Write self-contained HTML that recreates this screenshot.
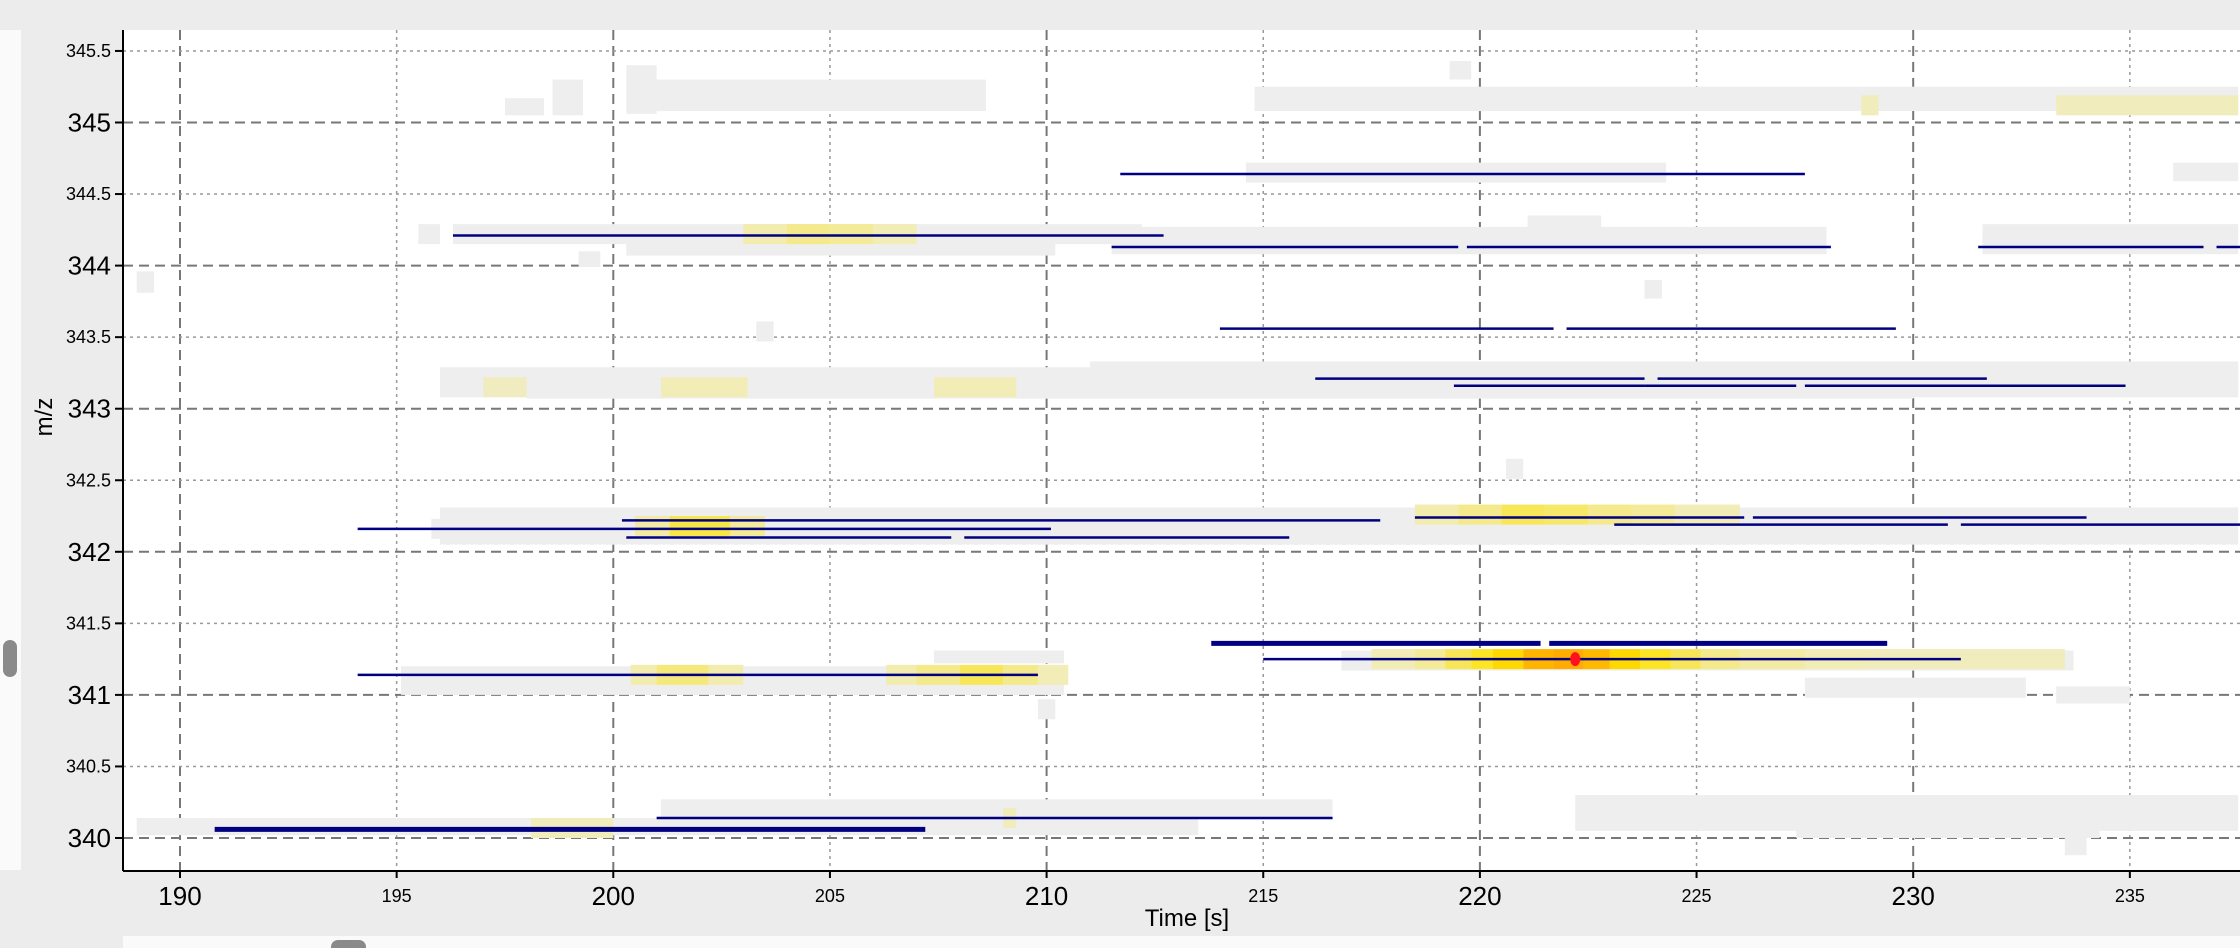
<!DOCTYPE html>
<html><head><meta charset="utf-8">
<style>
html,body{margin:0;padding:0;background:#ececec;}
svg{display:block;font-family:"Liberation Sans",sans-serif;}
</style></head>
<body>
<svg id="chart" width="2240" height="948" xmlns="http://www.w3.org/2000/svg">
  <rect x="0" y="0" width="2240" height="948" fill="#ececec"/>
  <rect x="0" y="30" width="21" height="840" fill="#fafafa"/>
  <rect x="3" y="640" width="14" height="37" rx="7" fill="#8a8a8a"/>
  <rect x="123" y="936" width="2117" height="12" fill="#fafafa"/>
  <rect x="331" y="940" width="35" height="14" rx="7" fill="#8a8a8a"/>
  <rect x="123" y="30" width="2117" height="841" fill="#ffffff"/>
  <g id="grid"></g>
  <g id="gray"></g>
  <g id="heat"></g>
  <g id="traces"></g>
  <g id="axes"></g>
  <text x="1187" y="926" font-size="24" text-anchor="middle" fill="#000">Time [s]</text>
  <text x="0" y="0" font-size="24" text-anchor="middle" fill="#000" transform="translate(52,417) rotate(-90)">m/z</text>
</svg>
<script>
const xMajorTicks=[190,200,210,220,230];
const xMinorTicks=[195,205,215,225,235];
const yMajorTicks=[340,341,342,343,344,345];
const yMinorTicks=[340.5,341.5,342.5,343.5,344.5,345.5];
// traces: [tStart, tEnd, mz, thick]
const traceStart=[211.7,196.3,211.5,219.7,231.5,237.0,214.0,222.0,216.2,224.1,219.4,223.8,227.5,194.1,200.2,200.3,208.1,218.5,226.3,223.1,231.1,213.8,221.6,215.0,194.1,190.8,201.0];
const traceEnd  =[227.5,212.7,219.5,228.1,236.7,238.0,221.7,229.6,223.8,231.7,223.8,227.3,234.9,210.1,217.7,207.8,215.6,226.1,234.0,230.8,238.0,221.4,229.4,231.1,209.8,207.2,216.6];
const traceMz   =[344.64,344.21,344.13,344.13,344.13,344.13,343.56,343.56,343.21,343.21,343.16,343.16,343.16,342.16,342.22,342.10,342.10,342.24,342.24,342.19,342.19,341.36,341.36,341.25,341.14,340.06,340.14];
const traceThick=[0,0,0,0,0,0,0,0,0,0,0,0,0,0,0,0,0,0,0,0,0,1,1,0,0,1,0];
// gray blocks
const grayT0=[197.5,198.6,200.8,200.3,214.8,219.3,214.6,223.8,236.0,195.5,196.3,200.3,221.1,211.5,231.6,189.0,199.2,223.8,203.3,196.0,198.0,211.0,220.6,195.8,196.0,215.0,195.1,207.4,209.8,216.8,227.5,233.3,189.0,201.1,222.2,227.3,233.5];
const grayT1=[198.4,199.3,208.6,201.0,237.5,219.8,223.8,224.3,237.5,196.0,212.2,210.2,222.8,228.0,237.5,189.4,199.7,224.2,203.7,237.5,230.0,237.5,221.0,196.2,237.5,226.0,210.4,210.4,210.2,233.7,232.6,235.0,213.5,216.6,237.5,234.3,234.0];
const grayTop=[345.17,345.30,345.30,345.40,345.25,345.43,344.72,344.72,344.72,344.29,344.29,344.16,344.35,344.27,344.29,343.96,344.10,343.90,343.61,343.29,343.20,343.33,342.65,342.23,342.31,342.20,341.20,341.31,340.97,341.31,341.12,341.06,340.14,340.27,340.30,340.13,340.00];
const grayBot=[345.05,345.05,345.08,345.06,345.08,345.30,344.58,344.58,344.59,344.15,344.15,344.07,344.20,344.08,344.08,343.81,343.99,343.77,343.47,343.08,343.07,343.12,342.51,342.09,342.05,342.05,341.00,341.22,340.83,341.17,340.98,340.94,340.02,340.14,340.05,340.00,339.88];
// heat cells
const heatT0=[203.0,204.0,205.0,206.0,200.5,201.3,202.7,197.0,201.1,207.4,218.5,219.5,220.5,221.5,222.5,223.5,224.5,200.4,201.0,202.2,206.3,207.0,208.0,209.0,209.8,217.5,218.5,219.2,219.8,220.3,221.0,221.7,222.4,223.0,223.7,224.4,225.1,226.0,227.5,229.0,231.0,198.1,228.8,233.3,209.0];
const heatT1=[204.0,205.0,206.0,207.0,201.3,202.7,203.5,198.0,203.1,209.3,219.5,220.5,221.5,222.5,223.5,224.5,226.0,201.0,202.2,203.0,207.0,208.0,209.0,209.8,210.5,218.5,219.2,219.8,220.3,221.0,221.7,222.4,223.0,223.7,224.4,225.1,226.0,227.5,229.0,231.0,233.5,200.0,229.2,237.5,209.3];
const heatMz=[344.22,344.22,344.22,344.22,342.18,342.18,342.18,343.15,343.15,343.15,342.26,342.26,342.26,342.26,342.26,342.26,342.26,341.14,341.14,341.14,341.14,341.14,341.14,341.14,341.14,341.25,341.25,341.25,341.25,341.25,341.25,341.25,341.25,341.25,341.25,341.25,341.25,341.25,341.25,341.25,341.25,340.07,345.12,345.12,340.14];
const heatI=[0.15,0.3,0.25,0.12,0.2,0.5,0.25,0.08,0.12,0.12,0.15,0.3,0.45,0.4,0.3,0.25,0.12,0.15,0.35,0.15,0.15,0.3,0.45,0.3,0.12,0.12,0.25,0.45,0.6,0.75,0.9,0.95,0.88,0.75,0.6,0.45,0.3,0.2,0.12,0.1,0.1,0.1,0.1,0.1,0.1];

const NS="http://www.w3.org/2000/svg";
function xs(t){return 180+(t-190)*43.33;}
function ys(m){return 838-(m-340)*143.1;}
const PL=123,PR=2240,PT=30,PB=871;
function mk(tag,attrs,parent){const e=document.createElementNS(NS,tag);for(const k in attrs)e.setAttribute(k,attrs[k]);parent.appendChild(e);return e;}
function heatColor(i){
  const stops=[[0,[240,237,210]],[0.3,[244,234,140]],[0.5,[248,230,70]],[0.7,[255,228,0]],[0.85,[255,192,0]],[1,[255,160,0]]];
  for(let k=1;k<stops.length;k++){if(i<=stops[k][0]){const a=stops[k-1],b=stops[k];const f=(i-a[0])/(b[0]-a[0]);const c=a[1].map((v,j)=>Math.round(v+(b[1][j]-v)*f));return `rgb(${c})`;}}
  return 'rgb(255,160,0)';
}
const grid=document.getElementById('grid');
xMajorTicks.forEach(t=>{const l=mk('line',{x1:xs(t),x2:xs(t),y1:PT,y2:PB,stroke:'#777','stroke-width':2,'stroke-dasharray':'10,6'},grid);});
xMinorTicks.forEach(t=>{const l=mk('line',{x1:xs(t),x2:xs(t),y1:PT,y2:PB,stroke:'#999','stroke-width':1.5,'stroke-dasharray':'3,4'},grid);});
yMajorTicks.forEach(m=>{const l=mk('line',{x1:PL,x2:PR,y1:ys(m),y2:ys(m),stroke:'#777','stroke-width':2,'stroke-dasharray':'10,6'},grid);});
yMinorTicks.forEach(m=>{const l=mk('line',{x1:PL,x2:PR,y1:ys(m),y2:ys(m),stroke:'#999','stroke-width':1.5,'stroke-dasharray':'3,4'},grid);});

const gray=document.getElementById('gray');
grayT0.forEach((t0,i)=>{const x0=Math.max(PL,xs(t0)),x1=Math.min(PR,xs(grayT1[i]));const r=mk('rect',{x:x0,y:ys(grayTop[i]),width:Math.max(0,x1-x0),height:ys(grayBot[i])-ys(grayTop[i]),fill:'#eeeeee'},gray);});

const heat=document.getElementById('heat');
heatT0.forEach((t0,i)=>{const x0=xs(t0),x1=Math.min(PR,xs(heatT1[i]));const h=0.14;const r=mk('rect',{x:x0,y:ys(heatMz[i]+h/2),width:x1-x0,height:h*143.1,fill:heatColor(heatI[i])},heat);});

const traces=document.getElementById('traces');
traceStart.forEach((t0,i)=>{const x1=Math.min(PR,xs(traceEnd[i]));const l=mk('line',{x1:xs(t0),x2:x1,y1:ys(traceMz[i]),y2:ys(traceMz[i]),stroke:'#000080','stroke-width':traceThick[i]?5:2.5},traces);});
const dot=mk('ellipse',{cx:xs(222.2),cy:ys(341.25),rx:5,ry:7,fill:'#ff1020'},traces);



const axes=document.getElementById('axes');
const ax=mk('line',{x1:PL,x2:PL,y1:PT,y2:PB,stroke:'#000','stroke-width':2},axes);

const bx=mk('line',{x1:PL,x2:PR,y1:PB,y2:PB,stroke:'#000','stroke-width':2},axes);

function ylab(m,big){mk('line',{x1:PL-8,x2:PL,y1:ys(m),y2:ys(m),stroke:'#000','stroke-width':2},axes);const t=mk('text',{x:PL-12,y:ys(m)+(big?9:6),'font-size':big?26:18,'text-anchor':'end',fill:'#000'},axes);t.textContent=big?String(m):m.toFixed(1);}
yMajorTicks.forEach(m=>ylab(m,true));yMinorTicks.forEach(m=>ylab(m,false));
function xlab(v,big){mk('line',{x1:xs(v),x2:xs(v),y1:PB,y2:PB+7,stroke:'#000','stroke-width':2},axes);const t=mk('text',{x:xs(v),y:big?905:902,'font-size':big?26:18,'text-anchor':'middle',fill:'#000'},axes);t.textContent=String(v);}
xMajorTicks.forEach(v=>xlab(v,true));xMinorTicks.forEach(v=>xlab(v,false));
</script>
</body></html>
